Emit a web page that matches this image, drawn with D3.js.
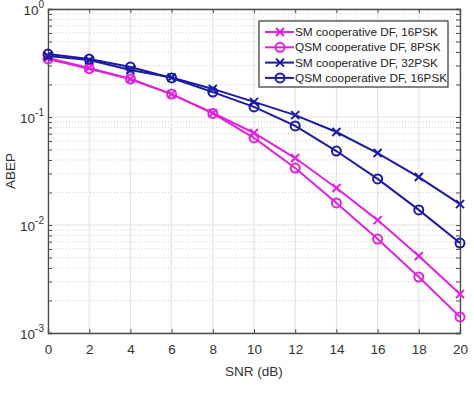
<!DOCTYPE html>
<html>
<head>
<meta charset="utf-8">
<script src="https://cdn.jsdelivr.net/npm/d3@7"></script>
<style>
  body { margin: 0; background: #fff; }
  text { font-family: "Liberation Sans", Arial, sans-serif; }
</style>
</head>
<body>
<svg id="chart" width="474" height="395"></svg>
<script>
// SNR values (dB)
const snr = [0, 2, 4, 6, 8, 10, 12, 14, 16, 18, 20];

// ABEP series
const sm16 = [0.352, 0.284, 0.225, 0.163, 0.109, 0.0711, 0.0417, 0.0220, 0.0111, 0.00517, 0.00230];
const qsm8 = [0.345, 0.280, 0.225, 0.163, 0.108, 0.064, 0.0337, 0.0160, 0.00741, 0.00330, 0.00141];
const sm32 = [0.367, 0.337, 0.272, 0.232, 0.182, 0.138, 0.104, 0.0726, 0.0464, 0.0278, 0.0156];
const qsm16 = [0.383, 0.344, 0.290, 0.230, 0.170, 0.124, 0.0826, 0.0484, 0.0267, 0.0138, 0.00681];

const seriesNames = [
  'SM cooperative DF, 16PSK',
  'QSM cooperative DF, 8PSK',
  'SM cooperative DF, 32PSK',
  'QSM cooperative DF, 16PSK'
];
const xTicks = [0, 2, 4, 6, 8, 10, 12, 14, 16, 18, 20];
const yDecades = [0, -1, -2, -3];

const magenta = '#e022de';
const navy = '#1a1aa6';
const series = [
  { name: seriesNames[0], values: sm16, color: magenta, marker: 'x' },
  { name: seriesNames[1], values: qsm8, color: magenta, marker: 'o' },
  { name: seriesNames[2], values: sm32, color: navy, marker: 'x' },
  { name: seriesNames[3], values: qsm16, color: navy, marker: 'o' }
];

const svg = d3.select('#chart');
const margin = { top: 9, right: 14, bottom: 62, left: 48 };
const width = 474, height = 395;
const innerWidth = width - margin.left - margin.right;
const innerHeight = height - margin.top - margin.bottom;

const x = d3.scaleLinear().domain([0, 20]).range([0, innerWidth]);
const y = d3.scaleLog().domain([1e-3, 1]).range([innerHeight, 0]);

const g = svg.append('g')
  .attr('transform', `translate(${margin.left}, ${margin.top})`);

// minor grid (dotted)
const minorVals = [];
[-3, -2, -1].forEach((e) => {
  for (let k = 2; k <= 9; k++) minorVals.push(k * Math.pow(10, e));
});
const allYTicks = minorVals.concat(yDecades.map((d) => Math.pow(10, d)));

g.selectAll('.minor-grid')
  .data(minorVals)
  .enter()
  .append('line')
  .attr('x1', 0).attr('x2', innerWidth)
  .attr('y1', (d) => y(d)).attr('y2', (d) => y(d))
  .attr('stroke', '#cfcfcf')
  .attr('stroke-width', 1)
  .attr('stroke-dasharray', '1,2');

// major grid
g.selectAll('.xgrid')
  .data(xTicks)
  .enter()
  .append('line')
  .attr('x1', (d) => x(d)).attr('x2', (d) => x(d))
  .attr('y1', 0).attr('y2', innerHeight)
  .attr('stroke', '#e0e0e0');
g.selectAll('.ygrid')
  .data(yDecades)
  .enter()
  .append('line')
  .attr('x1', 0).attr('x2', innerWidth)
  .attr('y1', (d) => y(Math.pow(10, d))).attr('y2', (d) => y(Math.pow(10, d)))
  .attr('stroke', '#e0e0e0');

// axes (inward ticks, box)
const axisColor = '#4a4a4a';
const xAxis = d3.axisBottom(x).tickValues(xTicks).tickSize(-4).tickPadding(11);
const xAxisTop = d3.axisTop(x).tickValues(xTicks).tickSize(-4).tickFormat('');
const yAxis = d3.axisLeft(y).tickValues(allYTicks).tickSize(-4).tickFormat('');
const yAxisRight = d3.axisRight(y).tickValues(allYTicks).tickSize(-4).tickFormat('');

const gx = g.append('g').attr('transform', `translate(0, ${innerHeight})`).call(xAxis);
const gTop = g.append('g').call(xAxisTop);
const gLeft = g.append('g').call(yAxis);
const gRight = g.append('g').attr('transform', `translate(${innerWidth}, 0)`).call(yAxisRight);
[gTop, gLeft, gRight].forEach((a) => a.selectAll('text').remove());

g.selectAll('.domain').attr('stroke', axisColor).attr('stroke-width', 1.3);
g.selectAll('.tick line').attr('stroke', axisColor);
gx.selectAll('text').attr('font-size', 13.5).attr('fill', '#333');

// y tick labels 10^n
const ylab = g.selectAll('.ylab')
  .data(yDecades)
  .enter()
  .append('text')
  .attr('x', -4)
  .attr('y', (d) => y(Math.pow(10, d)) + 6)
  .attr('text-anchor', 'end')
  .attr('font-size', 13.5)
  .attr('fill', '#333');
ylab.append('tspan').text('10');
ylab.append('tspan')
  .attr('dy', -7)
  .attr('font-size', 10)
  .text((d) => d);

// axis labels
svg.append('text')
  .attr('x', margin.left + innerWidth / 2)
  .attr('y', 376)
  .attr('text-anchor', 'middle')
  .attr('font-size', 13.5)
  .attr('fill', '#333')
  .text('SNR (dB)');
svg.append('text')
  .attr('transform', `translate(15, ${margin.top + innerHeight / 2}) rotate(-90)`)
  .attr('text-anchor', 'middle')
  .attr('font-size', 13.5)
  .attr('fill', '#333')
  .text('ABEP');

// lines + markers
const line = d3.line()
  .x((d, i) => x(snr[i]))
  .y((d) => y(d));

function drawMarker(sel, type, color) {
  if (type === 'o') {
    sel.append('circle')
      .attr('r', 4.5)
      .attr('fill', 'none')
      .attr('stroke', color)
      .attr('stroke-width', 2);
  } else {
    sel.append('path')
      .attr('d', 'M-4,-4L4,4M-4,4L4,-4')
      .attr('stroke', color)
      .attr('stroke-width', 2);
  }
}

series.forEach((s) => {
  g.append('path')
    .datum(s.values)
    .attr('d', line)
    .attr('fill', 'none')
    .attr('stroke', s.color)
    .attr('stroke-width', 2);
  g.selectAll(null)
    .data(s.values)
    .enter()
    .append('g')
    .attr('transform', (d, i) => `translate(${x(snr[i])}, ${y(d)})`)
    .each(function () { drawMarker(d3.select(this), s.marker, s.color); });
});

// legend
const legend = svg.append('g').attr('transform', 'translate(259, 21)');
legend.append('rect')
  .attr('width', 189)
  .attr('height', 66)
  .attr('fill', '#fff')
  .attr('stroke', '#333')
  .attr('stroke-width', 1.2);
series.forEach((s, i) => {
  const row = legend.append('g').attr('transform', `translate(0, ${11 + i * 15.3})`);
  row.append('line')
    .attr('x1', 6).attr('x2', 35)
    .attr('stroke', s.color)
    .attr('stroke-width', 2);
  drawMarker(row.append('g').attr('transform', 'translate(21, 0)'), s.marker, s.color);
  row.append('text')
    .attr('x', 36)
    .attr('y', 4)
    .attr('font-size', 11.8)
    .attr('fill', '#222')
    .text(s.name);
});
</script>
</body>
</html>
